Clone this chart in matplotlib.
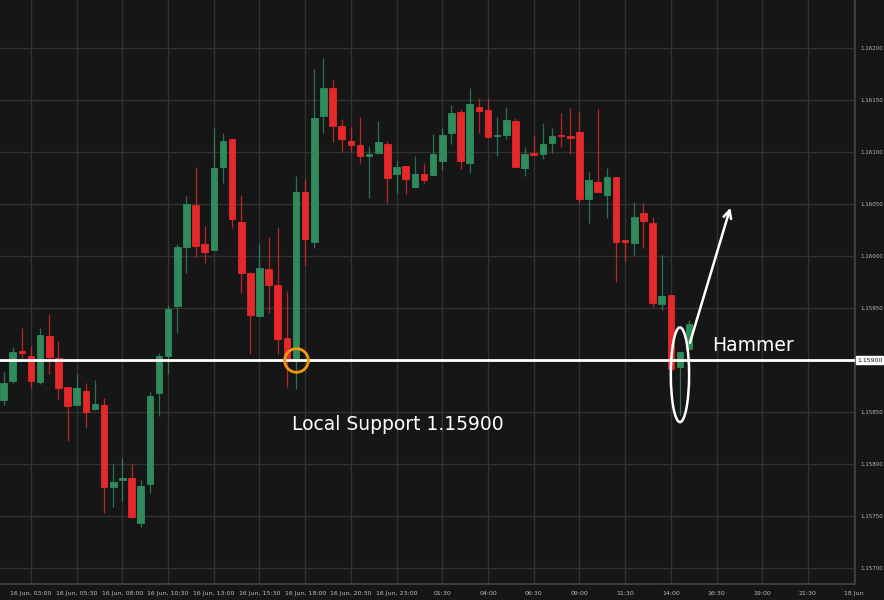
import matplotlib
matplotlib.use("Agg")
import matplotlib.pyplot as plt
from matplotlib.patches import Ellipse
import numpy as np

# 30-minute candles, index 0 = 16 Jun 03:00
idx = list(range(-3, 73))
opens = [115862,115880,115909,115904,115879,115923,115902,115874,115857,115870,115853,115857,115778,115785,115787,115744,115781,115868,115904,115952,116009,116049,116012,116006,116086,116112,116033,115984,115942,115988,115972,115921,115900,116062,116014,116135,116161,116125,116111,116107,116096,116099,116108,116079,116087,116066,116079,116078,116091,116118,116138,116089,116143,116140,116115,116116,116130,116085,116099,116098,116109,116116,116115,116119,116055,116071,116059,116076,116015,116013,116041,116032,115954,115963,115893,115911]
highs = [115889,115913,115931,115914,115931,115944,115918,115874,115887,115878,115881,115864,115800,115806,115800,115785,115869,115907,115953,116012,116058,116086,116029,116123,116118,116112,116059,115985,116012,116018,116028,115966,116077,116074,116180,116190,116169,116132,116124,116134,116106,116130,116111,116091,116087,116096,116089,116117,116123,116145,116141,116161,116152,116152,116134,116143,116133,116105,116115,116128,116123,116137,116142,116138,116081,116141,116085,116076,116015,116052,116051,116038,116001,115963,115908,115939]
lows = [115857,115878,115902,115873,115877,115887,115863,115822,115857,115835,115852,115753,115759,115765,115748,115740,115772,115846,115887,115926,115984,115999,115993,116006,116070,116027,115965,115906,115942,115945,115906,115874,115872,115991,116008,116118,116110,116100,116100,116089,116056,116099,116051,116061,116060,116065,116070,116078,116083,116108,116084,116080,116118,116114,116096,116112,116086,116077,116097,116093,116099,116105,116098,116051,116032,116062,116037,115975,115995,116001,116008,115951,115948,115892,115847,115911]
closes = [115878,115908,115907,115880,115924,115903,115873,115856,115873,115850,115858,115778,115783,115787,115749,115779,115866,115904,115949,116009,116050,116010,116004,116085,116111,116036,115984,115943,115989,115972,115920,115900,116062,116016,116133,116161,116125,116112,116107,116096,116098,116110,116075,116086,116074,116079,116073,116098,116116,116137,116091,116146,116139,116114,116116,116131,116086,116098,116097,116108,116115,116115,116113,116055,116073,116062,116076,116014,116014,116038,116034,115955,115962,115892,115908,115935]

tick_pos = list(range(0, 91, 5))
tick_labels = ["16 Jun, 03:00","16 Jun, 05:30","16 Jun, 08:00","16 Jun, 10:30","16 Jun, 13:00",
               "16 Jun, 15:30","16 Jun, 18:00","16 Jun, 20:30","16 Jun, 23:00","01:30","04:00",
               "06:30","09:00","11:30","14:00","16:30","19:00","21:30","18 Jun"]
support = 1.15900
y_ticks = [1.15700,1.15750,1.15800,1.15850,1.15950,1.16000,1.16050,1.16100,1.16150,1.16200]

BG = "#161616"
GRID = "#323232"
GREEN = "#2f8a5c"
RED = "#e5282b"

fig = plt.figure(figsize=(8.84, 6.0), dpi=100, facecolor=BG)
ax = fig.add_axes([0, 16/600, 855/884, 584/600], facecolor=BG)

o = np.array(opens)/1e5; h = np.array(highs)/1e5; l = np.array(lows)/1e5; c = np.array(closes)/1e5
for t, oo, hh, ll, cc in zip(idx, o, h, l, c):
    col = GREEN if cc >= oo else RED
    ax.vlines(t, ll, hh, color=col, lw=0.9, alpha=0.8, zorder=2)
    lo, hi = min(oo, cc), max(oo, cc)
    if hi - lo < 0.000012:
        lo, hi = (lo+hi)/2 - 0.000006, (lo+hi)/2 + 0.000006
    ax.bar(t, hi-lo, bottom=lo, width=0.72, color=col, edgecolor=col, lw=0.6, zorder=3)

ax.set_xlim(-3.39, 90.15)
ax.set_ylim(1.15685, 1.16246)
ax.set_xticks(tick_pos)
ax.set_xticklabels(tick_labels)
ax.set_yticks(y_ticks)
ax.set_yticklabels([f"{v:.5f}" for v in y_ticks])
ax.yaxis.tick_right()
ax.tick_params(axis="x", colors="#bbbbbb", labelsize=4.5, length=0, pad=5)
ax.tick_params(axis="y", colors="#bbbbbb", labelsize=4, length=0, pad=4)
ax.grid(True, color=GRID, lw=1)
ax.set_axisbelow(True)
for s in ["top", "left"]:
    ax.spines[s].set_visible(False)
for s in ["right", "bottom"]:
    ax.spines[s].set_color("#444444")
    ax.spines[s].set_linewidth(1.2)

# support line
ax.axhline(support, color="white", lw=2, zorder=4)
ax.text(1.003, support, "1.15900", transform=ax.get_yaxis_transform(), ha="left", va="center",
        fontsize=4.5, color="#111111", bbox=dict(boxstyle="square,pad=0.25", fc="white", ec="white"),
        clip_on=False)
ax.plot(29, support, "o", ms=17, mfc="none", mec="#f0960f", mew=2, zorder=5)
ax.add_patch(Ellipse((71, 1.15886), 2.0, 0.00091, fill=False, ec="white", lw=1.8, zorder=5))
ax.annotate("", xy=(76.6, 1.16049), xytext=(72.0, 1.15914),
            arrowprops=dict(arrowstyle="->", color="white", lw=1.8, mutation_scale=14), zorder=5)
ax.text(74.5, 1.15914, "Hammer", color="white", fontsize=13.5, va="center", ha="left")
ax.text(28.6, 1.158385, "Local Support 1.15900", color="white", fontsize=13.5, va="center", ha="left")

fig.savefig("out.png", dpi=100, facecolor=BG)
